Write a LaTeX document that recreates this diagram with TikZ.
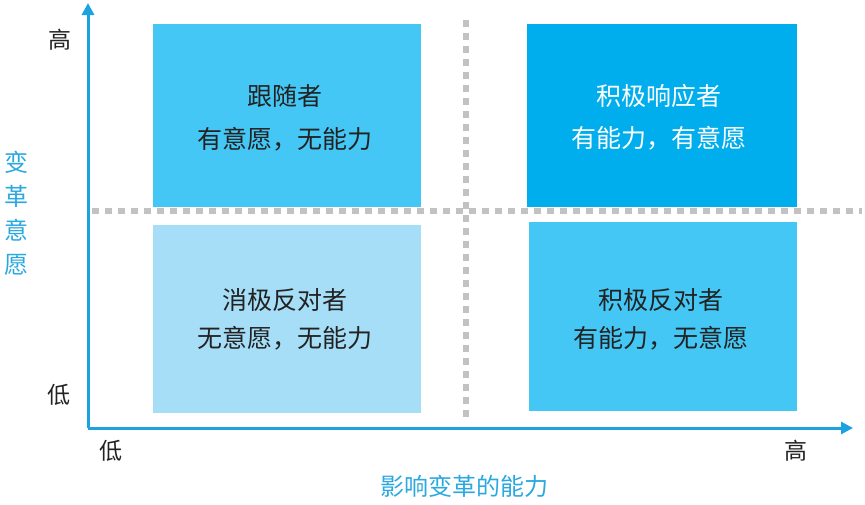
\documentclass[tikz,border=0pt]{standalone}
\usepackage{fontspec}
\setmainfont{Noto Sans CJK SC}
\usetikzlibrary{arrows.meta}
\definecolor{axisblue}{HTML}{1AA3E0}
\definecolor{labelblue}{HTML}{2AA8E0}
\definecolor{boxmid}{HTML}{45C7F5}
\definecolor{boxdark}{HTML}{00AEEE}
\definecolor{boxlight}{HTML}{A6DEF8}
\definecolor{dotgray}{HTML}{C2C2C2}
\definecolor{txt}{HTML}{222222}
\tikzset{
  quad/.style={draw=none, rectangle, inner sep=0pt, anchor=north west},
  qtext/.style={font=\fontsize{25}{28}\selectfont, text=txt, inner sep=0pt},
  axlabel/.style={font=\fontsize{23}{25}\selectfont, text=txt, inner sep=0pt},
  dotline/.style={draw=dotgray, line width=6.5pt, dash pattern=on 7pt off 6pt},
  axisline/.style={draw=axisblue, line width=3pt, -{Triangle[length=12pt,width=12pt]}},
}
\begin{document}
\begin{tikzpicture}[x=1pt,y=-1pt]
\useasboundingbox (0,0) rectangle (865,504);
% quadrant boxes
\node[quad, fill=boxmid, minimum width=268pt, minimum height=183pt] (tl) at (153,24) {};
\node[quad, fill=boxdark, minimum width=270pt, minimum height=183pt] (tr) at (527,24) {};
\node[quad, fill=boxlight, minimum width=268pt, minimum height=188pt] (bl) at (153,225) {};
\node[quad, fill=boxmid, minimum width=268pt, minimum height=189pt] (br) at (529,222) {};
% dotted dividers
\coordinate (hs) at (92,211);
\coordinate (he) at (862,211);
\coordinate (vs) at (466,20);
\coordinate (ve) at (466,422);
\draw[dotline] (hs) -- (he);
\draw[dotline] (vs) -- (ve);
% axes
\coordinate (o) at (88,428);
\coordinate (ytip) at (88,3);
\coordinate (xtip) at (853,428);
\draw[axisline] (o) -- (ytip);
\draw[axisline] (o) -- (xtip);
% texts
\node[qtext] (tl1) at (285,96) {跟随者};
\node[qtext] (tl2) at (285,139) {有意愿，无能力};
\node[qtext, text=white] (tr1) at (659,96) {积极响应者};
\node[qtext, text=white] (tr2) at (659,138) {有能力，有意愿};
\node[qtext] (bl1) at (285,300) {消极反对者};
\node[qtext] (bl2) at (285,338) {无意愿，无能力};
\node[qtext] (br1) at (661,300) {积极反对者};
\node[qtext] (br2) at (661,338) {有能力，无意愿};
% axis tick labels
\node[axlabel] (yh) at (60,40) {高};
\node[axlabel] (yl) at (59,395) {低};
\node[axlabel] (xl) at (111,451) {低};
\node[axlabel] (xh) at (796,451) {高};
% axis titles
\node[font=\fontsize{24}{34}\selectfont, text=labelblue, align=center, inner sep=0pt] (ytitle) at (17,213) {变\\革\\意\\愿};
\node[font=\fontsize{24}{26}\selectfont, text=labelblue, inner sep=0pt] (xtitle) at (464,486) {影响变革的能力};
\end{tikzpicture}
\end{document}
